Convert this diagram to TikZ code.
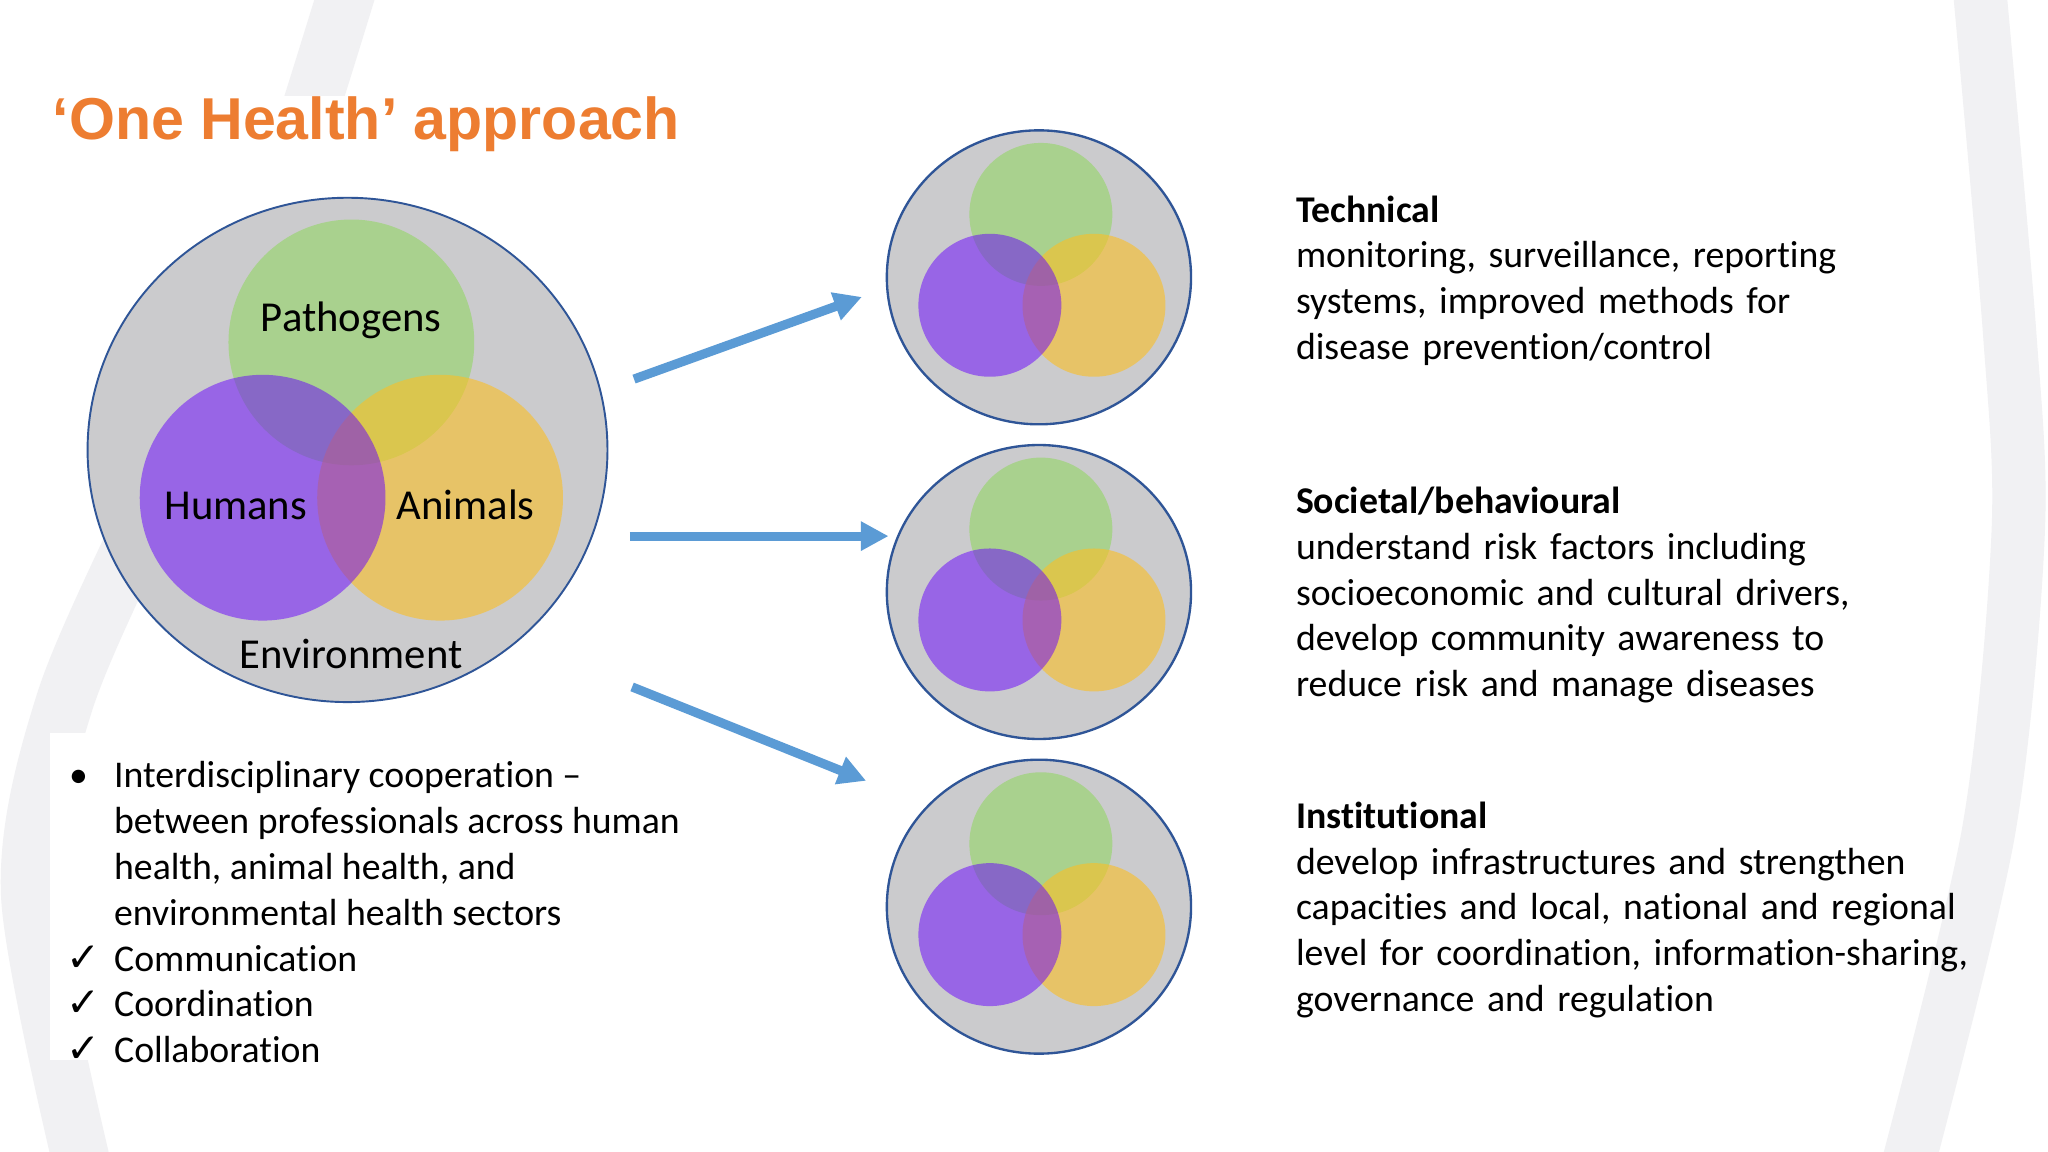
\documentclass[tikz,border=0pt]{standalone}
\usepackage{fontspec}
\setmainfont{Carlito}[Ligatures=NoCommon]
\newfontfamily\headfont{Liberation Sans}
\newfontfamily\checkfont{DejaVu Sans}
\usetikzlibrary{positioning,calc,arrows.meta,shapes.geometric}
\definecolor{TitleOrange}{HTML}{ED7D31}
\definecolor{RingBlue}{HTML}{2F5597}
\definecolor{EnvGray}{HTML}{CBCBCD}
\definecolor{PathGreen}{HTML}{A9D18E}
\definecolor{HumanPurple}{HTML}{6600FF}
\definecolor{AnimalYellow}{HTML}{FBBF24}
\definecolor{ArrowBlue}{HTML}{5B9BD5}
\definecolor{BandGray}{HTML}{F1F1F3}
\newcommand{\tick}{{\checkfont\fontsize{19}{20}\selectfont ✓}}

\begin{document}
\begin{tikzpicture}[
  x=1pt, y=-1pt,
  env/.style={ellipse, draw=RingBlue, line width=0.9pt, fill=EnvGray,
              inner sep=0pt, minimum width=243.7pt, minimum height=236.4pt},
  envsm/.style={ellipse, draw=RingBlue, line width=1.1pt, fill=EnvGray,
                inner sep=0pt, minimum width=142.6pt, minimum height=137.8pt},
  bigset/.style={circle, inner sep=0pt, minimum size=115.2pt},
  smset/.style={circle, inner sep=0pt, minimum size=67pt},
  patho/.style={fill=PathGreen},
  human/.style={fill=HumanPurple, fill opacity=0.5},
  animal/.style={fill=AnimalYellow, fill opacity=0.6},
  vlabel/.style={anchor=base, inner sep=0pt, font=\fontsize{20}{24}\selectfont},
  desc/.style={anchor=base west, inner sep=0pt, text width=360pt, align=left,
               font=\fontsize{17.7}{21.5}\selectfont},
  arr/.style={-{Triangle[length=13pt,width=13pt]}, line width=4.3pt, draw=ArrowBlue},
  band/.style={draw=BandGray, line cap=butt}
]
\useasboundingbox (0,0) rectangle (960,540);
\fill[white] (0,0) rectangle (960,540);

% slide background arcs
\draw[band, line width=27pt] plot[smooth] coordinates
  {(166,-15) (118,134.5) (72,234) (30,330) (14,420) (40.6,555)};
\draw[band, line width=25pt] plot[smooth] coordinates
  {(927,-15) (942,156) (946,250) (932,390.5) (892,555)};
\fill[white] (0,45) rectangle (340,101);
\fill[white] (23.4,343.6) rectangle (340,496.9);

\node[anchor=base west, inner sep=0pt, text=TitleOrange,
      font=\headfont\bfseries\fontsize{27.7}{34}\selectfont] (title) at (24.5,65.5)
  {‘One Health’ approach};

% big Venn
\node[env] (env) at (162.9,210.9) {};
\node[bigset, patho]  (path)  at (164.7,160.5) {};
\node[bigset, animal] (anim)  at (206.3,233.3) {};
\node[bigset, human]  (hum)   at (123.1,233.3) {};
\node[vlabel] (tpath) at (164.6,155.5) {Pathogens};
\node[vlabel] (thum)  at (110.5,243.5) {Humans};
\node[vlabel] (tanim) at (218.3,243.5) {Animals};
\node[vlabel] (tenv)  at (164.6,313.5) {Environment};

% small Venns
\node[envsm] (tech) at (487,130) {};
\node[smset, patho]  (tech-p) at ($(tech)+(0.9,-29.5)$) {};
\node[smset, animal] (tech-a) at ($(tech)+(25.8,13.1)$) {};
\node[smset, human]  (tech-h) at ($(tech)+(-23,13.1)$) {};

\node[envsm] (soc) at (487,277.5) {};
\node[smset, patho]  (soc-p) at ($(soc)+(0.9,-29.5)$) {};
\node[smset, animal] (soc-a) at ($(soc)+(25.8,13.1)$) {};
\node[smset, human]  (soc-h) at ($(soc)+(-23,13.1)$) {};

\node[envsm] (inst) at (487,425) {};
\node[smset, patho]  (inst-p) at ($(inst)+(0.9,-29.5)$) {};
\node[smset, animal] (inst-a) at ($(inst)+(25.8,13.1)$) {};
\node[smset, human]  (inst-h) at ($(inst)+(-23,13.1)$) {};

% arrows
\coordinate (a1s) at (297.2,177.7);
\coordinate (a1e) at (404,139.2);
\coordinate (a2s) at (295.3,251.3);
\coordinate (a2e) at (416.5,251.3);
\coordinate (a3s) at (296.3,322);
\coordinate (a3e) at (406,366);
\draw[arr] (a1s) -- (a1e);
\draw[arr] (a2s) -- (a2e);
\draw[arr] (a3s) -- (a3e);

% descriptions
\node[desc] (techtxt) at (607.3,104.1)
  {\textbf{Technical}\\monitoring, surveillance, reporting\\systems, improved methods for\\disease prevention/control};
\node[desc] (soctxt) at (607.3,240.6)
  {\textbf{Societal/behavioural}\\understand risk factors including\\socioeconomic and cultural drivers,\\develop community awareness to\\reduce risk and manage diseases};
\node[desc] (insttxt) at (607.3,388.2)
  {\textbf{Institutional}\\develop infrastructures and strengthen\\capacities and local, national and regional\\level for coordination, information-sharing,\\governance and regulation};

\node[anchor=base west, inner sep=0pt, font=\fontsize{17.7}{21.5}\selectfont] (coop) at (31.2,369.2)
  {\begin{tabular}[t]{@{}p{22.1pt}@{}l@{}}
   \hspace*{1pt}\textbullet & Interdisciplinary cooperation –\\
   & between professionals across human\\
   & health, animal health, and\\
   & environmental health sectors\\
   \tick & Communication\\
   \tick & Coordination\\
   \tick & Collaboration
   \end{tabular}};
\end{tikzpicture}
\end{document}
